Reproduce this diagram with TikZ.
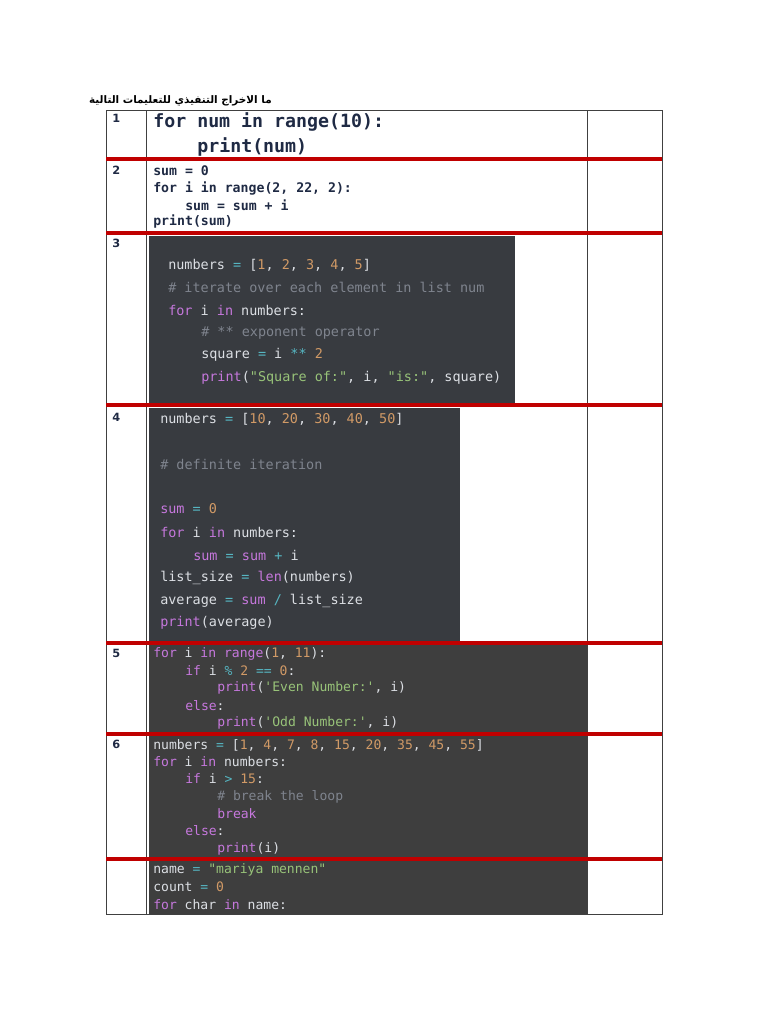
\documentclass[tikz,border=0pt]{standalone}
\usepackage{fontspec}
\setmainfont{DejaVu Sans}
\setmonofont{DejaVu Sans Mono}
\newfontfamily\arabicfont[Script=Arabic]{DejaVu Sans}
\TeXXeTstate=1
\definecolor{kwc}{HTML}{C678DD}
\definecolor{nmc}{HTML}{D19A66}
\definecolor{stc}{HTML}{98C379}
\definecolor{cmc}{HTML}{7F848E}
\definecolor{opc}{HTML}{56B6C2}
\definecolor{txc}{HTML}{DCDFE4}
\definecolor{bgA}{HTML}{383B40}
\definecolor{bgB}{HTML}{3E3E3E}
\definecolor{redl}{HTML}{C00000}
\definecolor{navy}{HTML}{1F2A44}
\newcommand\Kw[1]{\textcolor{kwc}{#1}}
\newcommand\Nm[1]{\textcolor{nmc}{#1}}
\newcommand\Str[1]{\textcolor{stc}{#1}}
\newcommand\Cm[1]{\textcolor{cmc}{#1}}
\newcommand\Op[1]{\textcolor{opc}{#1}}
\tikzset{
 darkcode/.style={anchor=west,inner sep=0pt,text=txc,font=\ttfamily\fontsize{10.1}{12}\selectfont},
 darkcodeB/.style={anchor=west,inner sep=0pt,text=txc,font=\ttfamily\fontsize{9.8}{12}\selectfont},
 lightcode/.style={anchor=west,inner sep=0pt,text=navy,font=\ttfamily\bfseries\fontsize{9.9}{12}\selectfont},
 bigcode/.style={anchor=west,inner sep=0pt,text=navy,font=\ttfamily\bfseries\fontsize{13.7}{16}\selectfont},
 numlab/.style={anchor=west,inner sep=0pt,text=navy,font=\bfseries\fontsize{8.5}{10}\selectfont},
 redline/.style={draw=redl,line width=2.3pt},
 grid/.style={draw=black!75,line width=0.7pt}
}
\begin{document}
\begin{tikzpicture}[x=0.75pt,y=-0.75pt]
\useasboundingbox (0,0) rectangle (768,1024);
% header
\node[anchor=east,inner sep=0pt,font=\arabicfont\bfseries\fontsize{7.8}{9}\selectfont] (hdr) at (272,101) {\beginR ما الاخراج التنفيذي للتعليمات التالية\endR};
% dark code backgrounds
\fill[bgA] (149,236) rectangle (515,404);
\fill[bgA] (149,408) rectangle (460,642);
\fill[bgB] (149,645) rectangle (587,733);
\fill[bgB] (149,736) rectangle (587,858);
\fill[bgB] (149,861) rectangle (587,914);
% table grid
\draw[grid] (106,110) rectangle (662,914);
\draw[grid] (146,110) -- (146,914);
\draw[grid] (587,110) -- (587,914);
\foreach \y in {159,233,405,643,734,859} \draw[redline] (106,\y) -- (662,\y);
% row numbers
\node[numlab] (n1) at (112,118) {1};
\node[numlab] (n2) at (112,170) {2};
\node[numlab] (n3) at (112,243) {3};
\node[numlab] (n4) at (112,417) {4};
\node[numlab] (n5) at (112,653) {5};
\node[numlab] (n6) at (112,744) {6};
% row 1
\node[bigcode] (r1a) at (153,122) {for num in range(10):};
\node[bigcode] (r1b) at (197,147) {print(num)};
% row 2
\node[lightcode] (r2a) at (153,171) {sum = 0};
\node[lightcode] (r2b) at (153,188) {for i in range(2, 22, 2):};
\node[lightcode] (r2c) at (185,205) {sum = sum + i};
\node[lightcode] (r2d) at (153,222) {print(sum)};
% row 3
\node[darkcode] (r3a) at (168,265) {numbers \Op{=} [\Nm{1}, \Nm{2}, \Nm{3}, \Nm{4}, \Nm{5}]};
\node[darkcode] (r3b) at (168,287) {\Cm{\# iterate over each element in list num}};
\node[darkcode] (r3c) at (168,310) {\Kw{for} i \Kw{in} numbers:};
\node[darkcode] (r3d) at (201,333) {\Cm{\# ** exponent operator}};
\node[darkcode] (r3e) at (201,355) {square \Op{=} i \Op{**} \Nm{2}};
\node[darkcode] (r3f) at (201,378) {\Kw{print}(\Str{"Square of:"}, i, \Str{"is:"}, square)};
% row 4
\node[darkcode] (r4a) at (160,419) {numbers \Op{=} [\Nm{10}, \Nm{20}, \Nm{30}, \Nm{40}, \Nm{50}]};
\node[darkcode] (r4b) at (160,464) {\Cm{\# definite iteration}};
\node[darkcode] (r4c) at (160,509) {\Kw{sum} \Op{=} \Nm{0}};
\node[darkcode] (r4d) at (160,532) {\Kw{for} i \Kw{in} numbers:};
\node[darkcode] (r4e) at (193,555) {\Kw{sum} \Op{=} \Kw{sum} \Op{+} i};
\node[darkcode] (r4f) at (160,578) {list\_size \Op{=} \Kw{len}(numbers)};
\node[darkcode] (r4g) at (160,601) {average \Op{=} \Kw{sum} \Op{/} list\_size};
\node[darkcode] (r4h) at (160,623) {\Kw{print}(average)};
% row 5
\node[darkcodeB] (r5a) at (153,654) {\Kw{for} i \Kw{in} \Kw{range}(\Nm{1}, \Nm{11}):};
\node[darkcodeB] (r5b) at (185,671) {\Kw{if} i \Op{\%} \Nm{2} \Op{==} \Nm{0}:};
\node[darkcodeB] (r5c) at (217,688) {\Kw{print}(\Str{'Even Number:'}, i)};
\node[darkcodeB] (r5d) at (185,706) {\Kw{else}:};
\node[darkcodeB] (r5e) at (217,723) {\Kw{print}(\Str{'Odd Number:'}, i)};
% row 6
\node[darkcodeB] (r6a) at (153,745) {numbers \Op{=} [\Nm{1}, \Nm{4}, \Nm{7}, \Nm{8}, \Nm{15}, \Nm{20}, \Nm{35}, \Nm{45}, \Nm{55}]};
\node[darkcodeB] (r6b) at (153,762) {\Kw{for} i \Kw{in} numbers:};
\node[darkcodeB] (r6c) at (185,779) {\Kw{if} i \Op{>} \Nm{15}:};
\node[darkcodeB] (r6d) at (217,797) {\Cm{\# break the loop}};
\node[darkcodeB] (r6e) at (217,814) {\Kw{break}};
\node[darkcodeB] (r6f) at (185,831) {\Kw{else}:};
\node[darkcodeB] (r6g) at (217,849) {\Kw{print}(i)};
% row 7
\node[darkcodeB] (r7a) at (153,870) {name \Op{=} \Str{"mariya mennen"}};
\node[darkcodeB] (r7b) at (153,887) {count \Op{=} \Nm{0}};
\node[darkcodeB] (r7c) at (153,905) {\Kw{for} char \Kw{in} name:};
\end{tikzpicture}
\end{document}
